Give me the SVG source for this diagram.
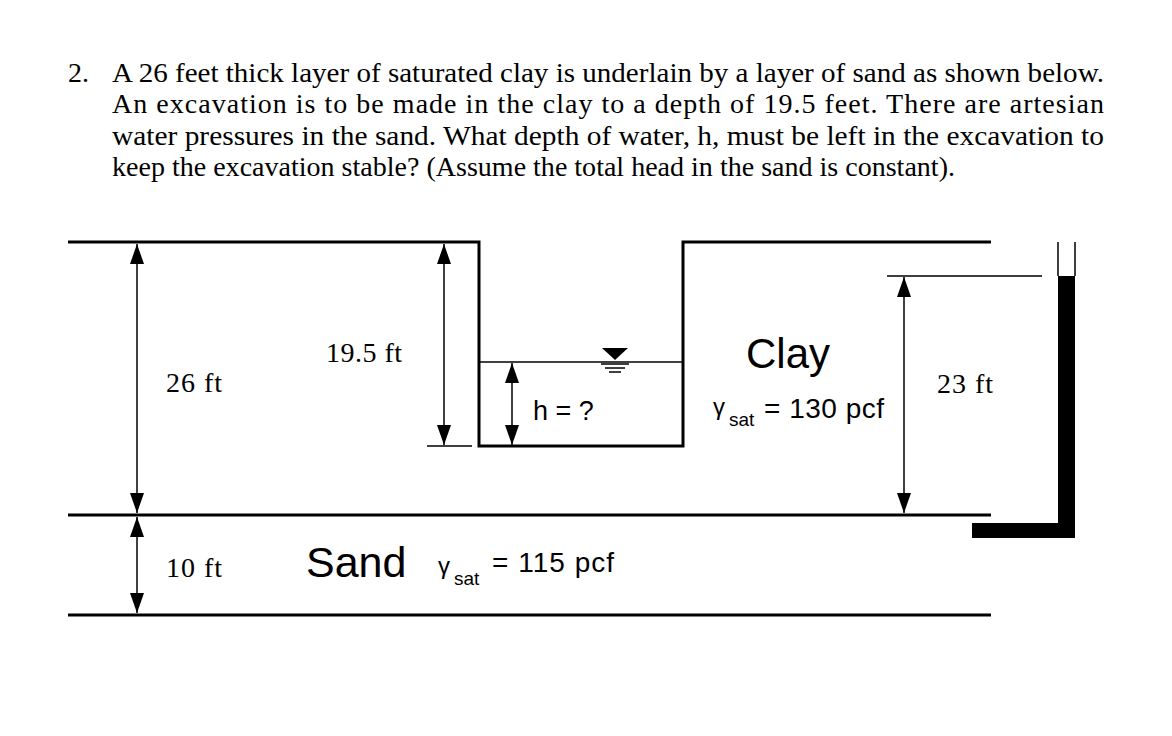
<svg xmlns="http://www.w3.org/2000/svg" width="1172" height="736" viewBox="0 0 1172 736">
<style>
.t{font-family:"Liberation Serif",serif;font-size:28px;fill:#000}
.d{font-family:"Liberation Serif",serif;font-size:28px;fill:#000}
.s{font-family:"Liberation Sans",sans-serif;fill:#000}
.g{stroke:#000;stroke-width:3;fill:none}
.a{stroke:#000;stroke-width:1.5;fill:none}
</style>
<defs>
<marker id="ar" viewBox="0 0 20 14" refX="20" refY="7" markerWidth="20" markerHeight="14" markerUnits="userSpaceOnUse" orient="auto-start-reverse"><path d="M0,0L20,7L0,14z" fill="#000"/></marker>
</defs>
<rect width="1172" height="736" fill="#fff"/>
<g id="question">
<text class="t" x="68" y="82">2.</text>
<text class="t" x="112" y="82" textLength="992" lengthAdjust="spacingAndGlyphs">A 26 feet thick layer of saturated clay is underlain by a layer of sand as shown below.</text>
<text class="t" x="112" y="113" textLength="992" lengthAdjust="spacing">An excavation is to be made in the clay to a depth of 19.5 feet.  There are artesian</text>
<text class="t" x="112" y="145" textLength="992" lengthAdjust="spacingAndGlyphs">water pressures in the sand.  What depth of water, h, must be left in the excavation to</text>
<text class="t" x="112" y="176" textLength="843" lengthAdjust="spacingAndGlyphs">keep the excavation stable? (Assume the total head in the sand is constant).</text>
</g>
<g id="ground">
<path class="g" d="M68,242H479V446H683V242H991"/>
<path class="a" d="M479,362H683"/>
<path class="g" d="M68,515H991M68,615H991" stroke-width="2.5"/>
<path class="a" d="M427,446H472M887,276H1042"/>
</g>
<g id="watertable">
<path d="M602,348H628L615,360z" fill="#000"/>
<path class="a" d="M601,364H629M605,368H625M609,372H621" stroke-width="1.2"/>
</g>
<g id="standpipe">
<path class="a" d="M1058,242V276M1075,242V276" stroke-width="1.2"/>
<rect x="1058" y="276" width="17" height="262" fill="#000"/>
<rect x="972" y="523" width="103" height="15" fill="#000"/>
</g>
<g id="connectors">
<path class="a" d="M137,244V513" marker-start="url(#ar)" marker-end="url(#ar)"/>
<path class="a" d="M137,517V613" marker-start="url(#ar)" marker-end="url(#ar)"/>
<path class="a" d="M444,244V445" marker-start="url(#ar)" marker-end="url(#ar)"/>
<path class="a" d="M512,363V445" marker-start="url(#ar)" marker-end="url(#ar)"/>
<path class="a" d="M904,277V513" marker-start="url(#ar)" marker-end="url(#ar)"/>
</g>
<g id="labels">
<text class="d" x="166" y="392" textLength="56">26 ft</text>
<text class="d" x="166" y="577" textLength="56">10 ft</text>
<text class="d" x="326" y="362" textLength="76">19.5 ft</text>
<text class="d" x="937" y="393" textLength="56">23 ft</text>
<text class="s" x="533" y="420" font-size="27">h = ?</text>
<text class="s" x="746" y="368" font-size="42">Clay</text>
<text class="s" x="713" y="415" font-size="24">γ</text>
<text class="s" x="729" y="426" font-size="19">sat</text>
<text class="s" x="764" y="418" font-size="28" textLength="120">= 130 pcf</text>
<text class="s" x="306" y="577" font-size="43">Sand</text>
<text class="s" x="438" y="574" font-size="24">γ</text>
<text class="s" x="454" y="585" font-size="19">sat</text>
<text class="s" x="492" y="572" font-size="28" textLength="122">= 115 pcf</text>
</g>
</svg>
